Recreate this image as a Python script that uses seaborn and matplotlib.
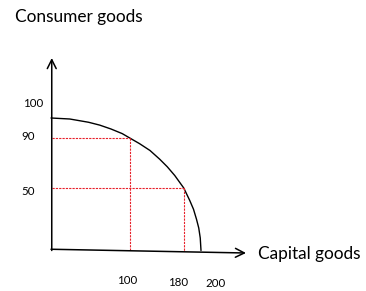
import matplotlib
matplotlib.use("Agg")
import matplotlib.pyplot as plt
import seaborn as sns
import pandas as pd

# ---- data (in chart units) ----
curve_x = [0, 25, 50, 65, 80, 95, 105, 118, 132, 145, 155, 165, 177, 185, 190, 194, 197, 199, 200]
curve_y = [106, 105.2, 102.6, 100.3, 97.2, 93.5, 90, 85.5, 80, 73, 67, 60, 50, 40, 33, 25, 18, 10, 0]

point_x = [105, 177]          # red guide points on the curve
point_y = [90, 50]

y_tick_labels = ["100", "90", "50"]
x_tick_labels = ["100", "180", "200"]
y_axis_title = "Consumer goods"
x_axis_title = "Capital goods"

# ---- layout (positions of hand-placed labels, in chart units) ----
y_label_pos = [(-24, 118), (-30, 91), (-30, 47)]
x_label_pos = [(101, -24), (169, -25.5), (219, -26.5)]

sns.set_style("white")
plt.rcParams["font.family"] = ["Lato", "DejaVu Sans"]

fig = plt.figure(figsize=(3.66, 2.91), dpi=100)
ax = fig.add_axes([0, 0, 1, 1])
ax.set_xlim(-68, 420)
ax.set_ylim(-32.4, 200.4)
ax.axis("off")

df = pd.DataFrame({"x": curve_x, "y": curve_y})
sns.lineplot(data=df, x="x", y="y", ax=ax, color="black", lw=1.0,
             sort=False, estimator=None)

# axes with open arrow heads
ax.annotate("", xy=(1, 154), xytext=(1, 0),
            arrowprops=dict(arrowstyle="->", lw=1.1, color="black",
                            mutation_scale=16, shrinkA=0, shrinkB=0))
ax.annotate("", xy=(260, -2), xytext=(0, 1),
            arrowprops=dict(arrowstyle="->", lw=1.1, color="black",
                            mutation_scale=16, shrinkA=0, shrinkB=0))

# red dashed guide lines
for px, py in zip(point_x, point_y):
    ax.plot([1, px], [py, py], color="#e8202a", lw=0.8, ls=(0, (2, 1)))
    ax.plot([px, px], [py, -0.5], color="#e8202a", lw=0.8, ls=(0, (2, 1)))

for lab, (tx, ty) in zip(y_tick_labels, y_label_pos):
    ax.text(tx, ty, lab, ha="center", va="center", fontsize=8.3, color="black")
for lab, (tx, ty) in zip(x_tick_labels, x_label_pos):
    ax.text(tx, ty, lab, ha="center", va="center", fontsize=8.3, color="black")

ax.text(-48, 187, y_axis_title, ha="left", va="center", fontsize=12.4, color="black")
ax.text(276, -3, x_axis_title, ha="left", va="center", fontsize=12.4, color="black")

fig.savefig("out.png", dpi=100)
